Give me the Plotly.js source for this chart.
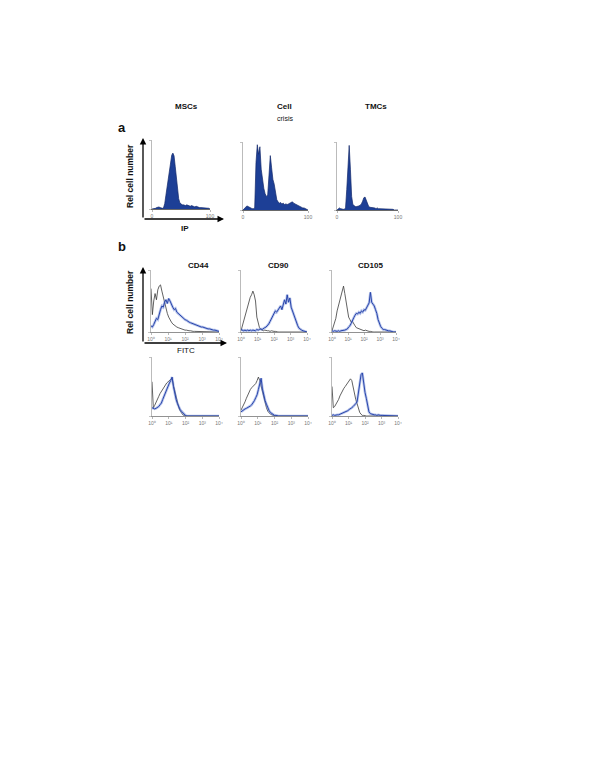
<!DOCTYPE html>
<html><head><meta charset="utf-8">
<script src="https://cdn.plot.ly/plotly-3.0.1.min.js"></script>
<style>html,body{margin:0;padding:0;background:#fff}#chart{width:600px;height:776px}</style>
</head><body><div id="chart"></div>
<script>
// ---------- DATA ----------
const IP_X = [0,2,4,6,8,10,12,14,16,18,20,22,24,26,28,30,32,34,36,38,40,42,44,46,48,50,52,54,56,58,60,62,64,66,68,70,72,74,76,78,80,82,84,86,88,90,92,94,96,98,100];
const IP_TICKS = [0,100];
const IP_TICK_LABELS = ['0','100'];
const MSC_DNA = [0,0,0.01,0.01,0.02,0.03,0.03,0.02,0.01,0.01,0.02,0.08,0.2,0.32,0.42,0.55,0.68,0.78,0.81,0.77,0.62,0.45,0.28,0.15,0.09,0.07,0.06,0.06,0.05,0.05,0.06,0.05,0.05,0.04,0.05,0.04,0.04,0.03,0.04,0.03,0.03,0.02,0.02,0.02,0.02,0.02,0.02,0.01,0.01,0.01,0];
const CRISIS_DNA = [0,0.02,0.05,0.06,0.05,0.04,0.02,0.02,0.02,0.03,0.7,0.96,0.82,0.93,0.6,0.42,0.32,0.24,0.2,0.22,0.45,0.8,0.62,0.45,0.38,0.25,0.15,0.12,0.1,0.11,0.09,0.1,0.08,0.09,0.08,0.09,0.1,0.11,0.12,0.1,0.09,0.07,0.06,0.05,0.05,0.04,0.03,0.03,0.02,0.01,0];
const TMC_DNA = [0,0.02,0.03,0.02,0.01,0.01,0.01,0.03,0.3,0.75,0.95,0.6,0.2,0.08,0.06,0.05,0.05,0.05,0.06,0.07,0.09,0.13,0.18,0.19,0.14,0.08,0.05,0.04,0.04,0.03,0.03,0.03,0.02,0.03,0.02,0.02,0.02,0.02,0.02,0.02,0.01,0.02,0.01,0.01,0.01,0.01,0.01,0,0,0,0];

const FITC_X = [0,0.08,0.16,0.24,0.32,0.4,0.48,0.56,0.64,0.72,0.8,0.88,0.96,1.04,1.12,1.2,1.28,1.36,1.44,1.52,1.6,1.68,1.76,1.84,1.92,2,2.08,2.16,2.24,2.32,2.4,2.48,2.56,2.64,2.72,2.8,2.88,2.96,3.04,3.12,3.2,3.28,3.36,3.44,3.52,3.6,3.68,3.76,3.84,3.92,4];
const FITC_TICKS = [0,1,2,3,4];
const FITC_TICK_LABELS = ['10\u2070','10\u00b9','10\u00b2','10\u00b3','10\u2074'];

// row 1 (MSCs)
const CD44_CTRL = [0.7,0.28,0.5,0.62,0.52,0.68,0.74,0.76,0.66,0.56,0.45,0.36,0.3,0.24,0.19,0.16,0.13,0.11,0.09,0.08,0.07,0.06,0.05,0.04,0.04,0.03,0.03,0.02,0.02,0.02,0.01,0.01,0.01,0.01,0.01,0.01,0.01,0.01,0,0,0,0,0,0,0,0,0,0,0,0,0];
const CD44_STAIN = [0.1,0.08,0.12,0.16,0.22,0.2,0.3,0.36,0.42,0.4,0.48,0.52,0.46,0.54,0.5,0.44,0.4,0.36,0.38,0.32,0.3,0.27,0.26,0.24,0.22,0.2,0.19,0.17,0.16,0.15,0.14,0.13,0.12,0.11,0.1,0.1,0.09,0.08,0.08,0.07,0.06,0.06,0.05,0.05,0.04,0.04,0.03,0.03,0.02,0.02,0.01];
const CD90_CTRL = [0.02,0.1,0.2,0.28,0.34,0.42,0.5,0.56,0.6,0.66,0.6,0.5,0.24,0.14,0.07,0.04,0.03,0.02,0.03,0.02,0.02,0.02,0.01,0.02,0.01,0.01,0.01,0,0,0,0,0,0,0,0,0,0,0,0,0,0,0,0,0,0,0,0,0,0,0,0];
const CD90_STAIN = [0.04,0.03,0.02,0.03,0.02,0.03,0.02,0.03,0.02,0.03,0.03,0.02,0.04,0.03,0.04,0.05,0.04,0.06,0.07,0.08,0.1,0.13,0.17,0.22,0.26,0.3,0.34,0.32,0.36,0.38,0.42,0.36,0.46,0.52,0.45,0.6,0.48,0.55,0.4,0.34,0.27,0.2,0.15,0.1,0.06,0.04,0.03,0.02,0.01,0.01,0];
const CD105_CTRL = [0.02,0.08,0.14,0.22,0.34,0.42,0.5,0.6,0.66,0.74,0.62,0.5,0.36,0.24,0.2,0.16,0.17,0.12,0.1,0.07,0.06,0.05,0.04,0.03,0.03,0.02,0.03,0.02,0.02,0.01,0.01,0,0,0,0,0,0,0,0,0,0,0,0,0,0,0,0,0,0,0,0];
const CD105_STAIN = [0.02,0.01,0.02,0.01,0.01,0.02,0.01,0.02,0.02,0.03,0.03,0.04,0.05,0.08,0.1,0.14,0.2,0.23,0.27,0.3,0.29,0.32,0.3,0.34,0.32,0.36,0.35,0.4,0.43,0.47,0.64,0.48,0.45,0.42,0.36,0.3,0.2,0.13,0.09,0.06,0.04,0.04,0.03,0.02,0.02,0.02,0.01,0.01,0,0,0];
// row 2 (TMCs)
const CD44_CTRL_T = [0.58,0.14,0.18,0.24,0.28,0.33,0.38,0.42,0.46,0.5,0.54,0.56,0.58,0.6,0.62,0.64,0.52,0.41,0.3,0.21,0.14,0.09,0.05,0.02,0.01,0,0,0,0,0,0,0,0,0,0,0,0,0,0,0,0,0,0,0,0,0,0,0,0,0,0];
const CD44_STAIN_T = [0.14,0.13,0.12,0.13,0.14,0.16,0.19,0.22,0.28,0.34,0.4,0.46,0.5,0.56,0.6,0.66,0.5,0.37,0.28,0.21,0.15,0.11,0.08,0.05,0.02,0.01,0,0,0,0,0,0,0,0,0,0,0,0,0,0,0,0,0,0,0,0,0,0,0,0,0];
const CD90_CTRL_T = [0.1,0.14,0.2,0.24,0.3,0.36,0.42,0.45,0.48,0.5,0.52,0.55,0.6,0.66,0.6,0.5,0.42,0.32,0.22,0.14,0.08,0.05,0.03,0.02,0.01,0,0,0,0,0,0,0,0,0,0,0,0,0,0,0,0,0,0,0,0,0,0,0,0,0,0];
const CD90_STAIN_T = [0.07,0.09,0.1,0.12,0.13,0.14,0.15,0.17,0.19,0.22,0.26,0.31,0.36,0.45,0.55,0.64,0.46,0.34,0.26,0.2,0.14,0.09,0.06,0.04,0.02,0.01,0.01,0,0,0,0,0,0,0,0,0,0,0,0,0,0,0,0,0,0,0,0,0,0,0,0];
const CD105_CTRL_T = [0.5,0.14,0.16,0.2,0.23,0.28,0.34,0.39,0.43,0.47,0.5,0.53,0.56,0.58,0.63,0.6,0.48,0.38,0.28,0.21,0.12,0.06,0.03,0.01,0.01,0,0,0,0,0,0,0,0,0,0,0,0,0,0,0,0,0,0,0,0,0,0,0,0,0,0];
const CD105_STAIN_T = [0.01,0.02,0.01,0.02,0.02,0.02,0.03,0.03,0.04,0.05,0.06,0.07,0.09,0.11,0.12,0.14,0.16,0.18,0.21,0.24,0.42,0.6,0.7,0.73,0.55,0.4,0.3,0.14,0.07,0.04,0.03,0.02,0.02,0.02,0.01,0.02,0.01,0.01,0.01,0.01,0,0,0,0,0,0,0,0,0,0,0];

const COLUMN_TITLES = ['MSCs','Cell','TMCs'];
const COLUMN_SUBTITLE = 'crisis';
const MARKERS = ['CD44','CD90','CD105'];
const Y_LABEL = 'Rel cell number';
const X_LABEL_A = 'IP';
const X_LABEL_B = 'FITC';

// ---------- LAYOUT HELPERS ----------
const W = 600, H = 776;
const px = v => v / W;
const py = v => 1 - v / H;

const panels = [
  {x:[152,210], y:[140,209], kind:'a'},
  {x:[243,308], y:[142,210], kind:'a'},
  {x:[337,398], y:[142,210], kind:'a'},
  {x:[151,219], y:[270,332], kind:'b'},
  {x:[241,307], y:[270,332], kind:'b'},
  {x:[332,396], y:[270,332], kind:'b'},
  {x:[152,219], y:[357,416], kind:'b'},
  {x:[241,308], y:[357,416], kind:'b'},
  {x:[332,398], y:[357,416], kind:'b'}
];

const FILL = '#1d3f96', FILL_LINE = '#13286a';
const BLUE = '#2a46ab', HAZE = 'rgba(95,125,210,0.45)', BLACK = '#3a3a3a';

const traces = [];
const dnaSets = [MSC_DNA, CRISIS_DNA, TMC_DNA];
dnaSets.forEach((ys, i) => {
  const n = i + 1;
  traces.push({x: IP_X, y: ys, type:'scatter', mode:'lines', fill:'tozeroy',
    fillcolor: FILL, line:{color: FILL_LINE, width:0.7},
    xaxis: 'x' + (n === 1 ? '' : n), yaxis: 'y' + (n === 1 ? '' : n), hoverinfo:'skip'});
});
const fitcSets = [
  [CD44_CTRL, CD44_STAIN], [CD90_CTRL, CD90_STAIN], [CD105_CTRL, CD105_STAIN],
  [CD44_CTRL_T, CD44_STAIN_T], [CD90_CTRL_T, CD90_STAIN_T], [CD105_CTRL_T, CD105_STAIN_T]
];
fitcSets.forEach((pair, i) => {
  const n = i + 4;
  const xa = 'x' + n, ya = 'y' + n;
  traces.push({x: FITC_X, y: pair[0], type:'scatter', mode:'lines',
    line:{color: BLACK, width:0.8}, xaxis: xa, yaxis: ya, hoverinfo:'skip'});
  traces.push({x: FITC_X, y: pair[1], type:'scatter', mode:'lines',
    line:{color: HAZE, width:2.6}, xaxis: xa, yaxis: ya, hoverinfo:'skip'});
  traces.push({x: FITC_X, y: pair[1], type:'scatter', mode:'lines',
    line:{color: BLUE, width:1}, xaxis: xa, yaxis: ya, hoverinfo:'skip'});
});

const layout = {
  width: W, height: H, margin:{l:0,r:0,t:0,b:0},
  paper_bgcolor:'#fff', plot_bgcolor:'rgba(0,0,0,0)',
  showlegend:false,
  font:{family:'Liberation Sans, Arial, sans-serif', color:'#000'},
  annotations: [], shapes: []
};

panels.forEach((p, i) => {
  const n = i + 1;
  const sfx = n === 1 ? '' : n;
  const isA = p.kind === 'a';
  layout['xaxis' + sfx] = {
    domain:[px(p.x[0]), px(p.x[1])], anchor:'y' + sfx,
    range: isA ? [0,100] : [0,4],
    showgrid:false, zeroline:false, showline:true,
    linecolor: isA ? '#444' : '#777', linewidth: 0.8,
    ticks:'outside', ticklen:2, tickcolor:'#888', tickwidth:0.6,
    tickvals: isA ? IP_TICKS : FITC_TICKS,
    ticktext: isA ? IP_TICK_LABELS : FITC_TICK_LABELS,
    tickfont:{size:5, color:'#777'}, fixedrange:true
  };
  layout['yaxis' + sfx] = {
    domain:[py(p.y[1]), py(p.y[0])], anchor:'x' + sfx,
    range:[0,1], showgrid:false, zeroline:false, showline:true,
    linecolor:'#aaa', linewidth:0.8,
    ticks:'outside', ticklen:2, tickcolor:'#999', tickwidth:0.6,
    tickvals:[0,1], showticklabels:false, fixedrange:true
  };
});

const txt = (x, y, text, size, bold, extra) => Object.assign({
  x: px(x), y: py(y), xref:'paper', yref:'paper', showarrow:false,
  text: bold ? '<b>' + text + '</b>' : text,
  font:{size: size, color:'#111', family:'Liberation Sans, Arial, sans-serif'},
  xanchor:'center', yanchor:'middle'
}, extra || {});

const A = layout.annotations;
A.push(txt(186, 107, COLUMN_TITLES[0], 8, true));
A.push(txt(284, 107, COLUMN_TITLES[1], 8, true));
A.push(txt(285, 118, COLUMN_SUBTITLE, 7, false));
A.push(txt(376, 107, COLUMN_TITLES[2], 8, true));
A.push(txt(122, 128, 'a', 13, true));
A.push(txt(122, 247, 'b', 13, true));
A.push(txt(198, 265, MARKERS[0], 8, true));
A.push(txt(278, 265, MARKERS[1], 8, true));
A.push(txt(370, 265, MARKERS[2], 8, true));
A.push(txt(130, 176, Y_LABEL, 8.5, true, {textangle:-90}));
A.push(txt(130, 302, Y_LABEL, 8.5, true, {textangle:-90}));
A.push(txt(185, 228, X_LABEL_A, 8, true));
A.push(txt(186, 351, X_LABEL_B, 8, false));

// big arrow axes
const arrow = (x, y, ax, ay) => ({
  x: px(x), y: py(y), xref:'paper', yref:'paper', text:'', showarrow:true,
  ax: ax, ay: ay, axref:'pixel', ayref:'pixel',
  arrowhead:2, arrowsize:1, arrowwidth:1.3, arrowcolor:'#000'
});
A.push(arrow(143, 138, 0, 81));
A.push(arrow(224, 219, -81, 0));
A.push(arrow(143, 267, 0, 76));
A.push(arrow(227, 343, -84, 0));

Plotly.newPlot('chart', traces, layout, {staticPlot:true, displayModeBar:false});
</script>
</body></html>
